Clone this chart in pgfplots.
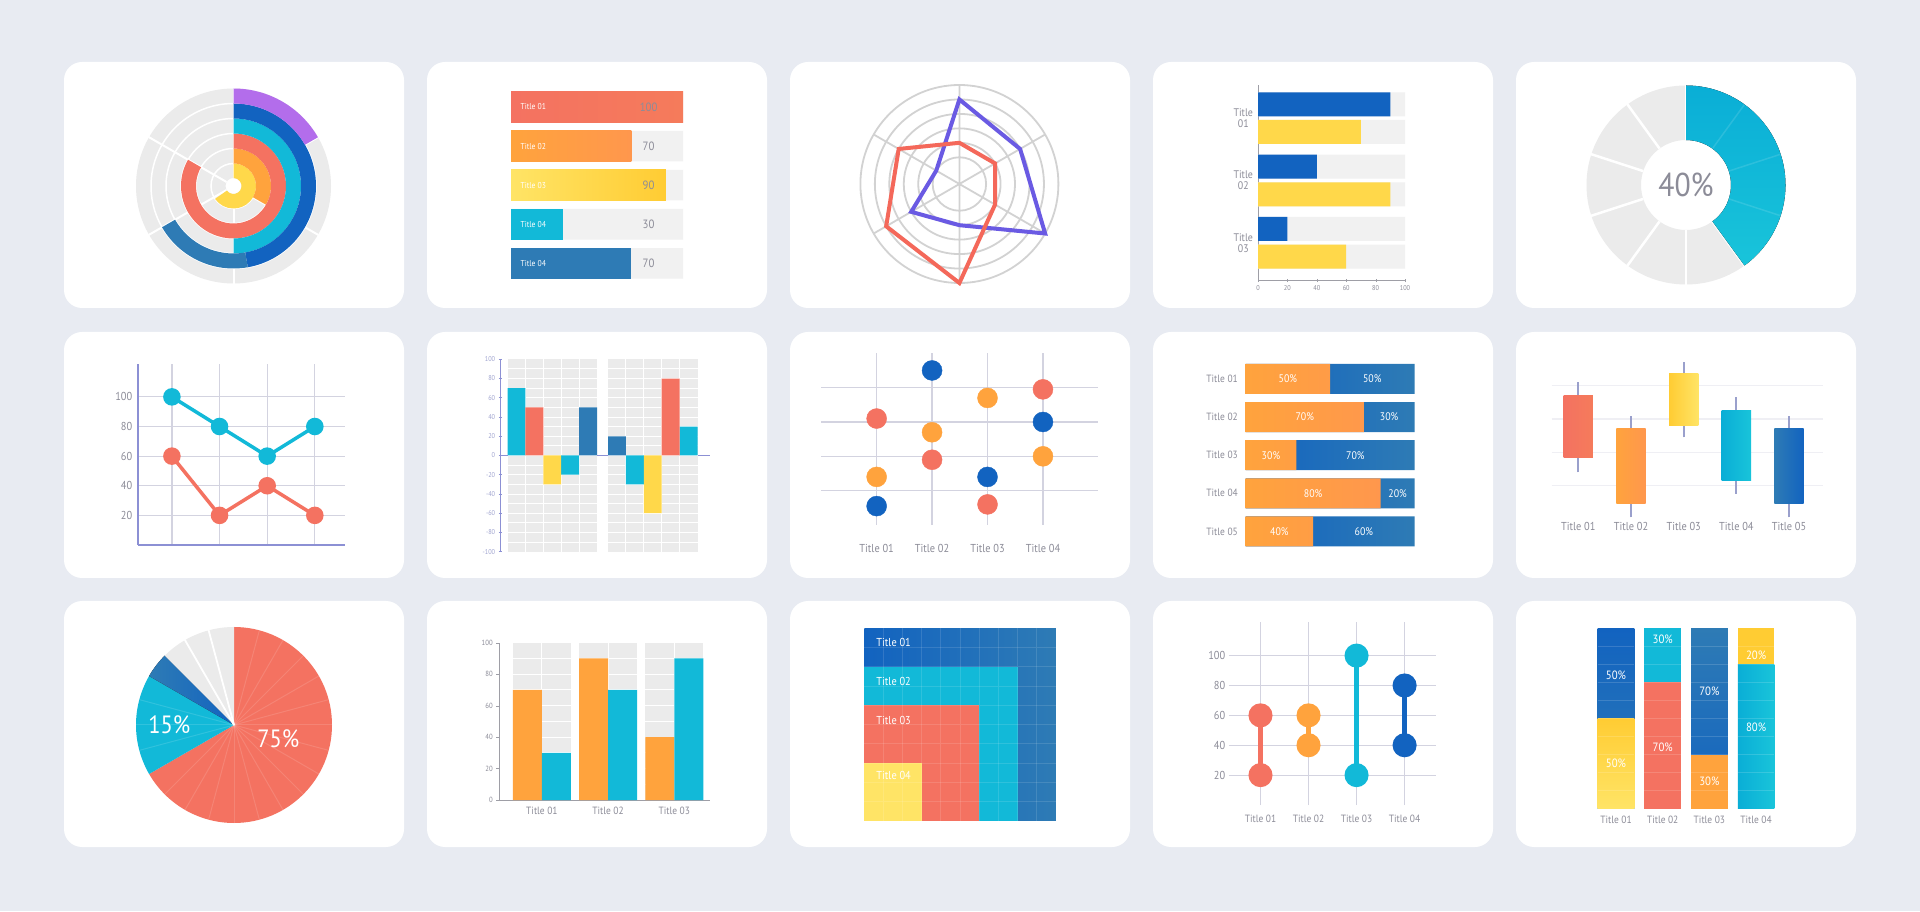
\documentclass[border=0pt]{standalone}
\usepackage{fontspec}
\setmainfont{PT Sans}[FakeStretch=0.9]
\usepackage{pgfplots}
\pgfplotsset{compat=1.18}
\usepgfplotslibrary{polar}

\definecolor{bgc}{HTML}{E8EBF2}
\definecolor{coral}{HTML}{F47261}
\definecolor{coralB}{HTML}{F57B5B}
\definecolor{orng}{HTML}{FFA33D}
\definecolor{orngB}{HTML}{FF974D}
\definecolor{yel}{HTML}{FFD84A}
\definecolor{yelL}{HTML}{FFE466}
\definecolor{yelD}{HTML}{FFCC33}
\definecolor{cyn}{HTML}{12B9D8}
\definecolor{cynD}{HTML}{0AAED6}
\definecolor{cynL}{HTML}{19C4DA}
\definecolor{dblue}{HTML}{1263C0}
\definecolor{steel}{HTML}{2E7BB5}
\definecolor{purp}{HTML}{B36DEB}
\definecolor{radarblue}{HTML}{6A5AE3}
\definecolor{radarred}{HTML}{F4685A}
\definecolor{ringg}{HTML}{EBEBEB}
\definecolor{track}{HTML}{F1F1F1}
\definecolor{lav}{HTML}{8C90D4}
\definecolor{lavtxt}{HTML}{A0A4D0}
\definecolor{gridc}{HTML}{D3D3E0}
\definecolor{txt}{HTML}{8C8C98}
\definecolor{axg}{HTML}{9E9EA6}
\definecolor{wick}{HTML}{9AA0CC}
\definecolor{faint}{HTML}{EFEFF4}
\definecolor{radring}{HTML}{D2D2D2}

\newcommand{\tf}[1]{\fontsize{#1}{#1}\selectfont}
% ring segment: inner r, outer r, from, to (degrees clockwise from top), style
\newcommand{\sector}[5]{%
  \fill[#5] (axis cs:{#2*cos(90-(#3))},{#2*sin(90-(#3))})
    arc[start angle={90-(#3)}, end angle={90-(#4)}, radius=#2pt]
    -- (axis cs:{#1*cos(90-(#4))},{#1*sin(90-(#4))})
    arc[start angle={90-(#4)}, end angle={90-(#3)}, radius=#1pt] -- cycle;}
\newcommand{\pie}[4]{%
  \fill[#4] (axis cs:0,0) -- (axis cs:{#1*cos(90-(#2))},{#1*sin(90-(#2))})
    arc[start angle={90-(#2)}, end angle={90-(#3)}, radius=#1pt] -- cycle;}
\newcommand{\spoke}[4]{%
  \draw[#4] (axis cs:{#1*cos(90-(#3))},{#1*sin(90-(#3))})
    -- (axis cs:{#2*cos(90-(#3))},{#2*sin(90-(#3))});}

\pgfplotsset{
  base/.style={scale only axis, clip=false, anchor=south west,
    /pgf/number format/assume math mode=true,
    tick style={draw=none}, ticklabel style={text=txt}},
  circ/.style={base, anchor=center, width=200pt, height=200pt,
    xmin=-100, xmax=100, ymin=-100, ymax=100, hide axis},
  b0/.style={bar shift=0pt, draw=none},
}

\begin{document}
\begin{tikzpicture}[x=1pt,y=1pt]
\fill[bgc] (0,0) rectangle (1920,911);
\foreach \cx in {64,427,790,1153,1516}{
  \foreach \cy in {849,579,310}{
    \fill[white, rounded corners=18pt] (\cx,\cy) rectangle ++(340,-246);
  }}

% ---------- row 1 ----------
% radial rings
\begin{axis}[circ, at={(233.5pt,725pt)}]
  \sector{8}{97.5}{0}{360}{ringg}
  \draw[white, line width=1.5pt] (axis cs:0,0) circle[radius=22.5pt];
  \draw[white, line width=1.5pt] (axis cs:0,0) circle[radius=37.5pt];
  \draw[white, line width=1.5pt] (axis cs:0,0) circle[radius=52.5pt];
  \draw[white, line width=1.5pt] (axis cs:0,0) circle[radius=67.5pt];
  \draw[white, line width=1.5pt] (axis cs:0,0) circle[radius=82.5pt];
  \pgfplotsinvokeforeach{0,60,120,180,240,300}{\spoke{8}{98}{#1}{white, line width=2pt}}
  \sector{8}{22.5}{0}{235}{yel}
  \sector{22.5}{37.5}{0}{120}{orng}
  \sector{37.5}{52.5}{0}{300}{coral}
  \sector{52.5}{67.5}{0}{180}{cyn}
  \sector{67.5}{82.5}{0}{170}{dblue}
  \sector{67.5}{82.5}{170}{240}{steel}
  \sector{82.5}{97.5}{0}{60}{purp}
\end{axis}

% horizontal progress bars
\begin{axis}[base, at={(511pt,628.05pt)}, width=172pt, height=195.5pt,
  xmin=0, xmax=100, ymin=0.5, ymax=5.5, y dir=reverse, hide axis,
  xbar, bar width=30.6pt]
  \addplot[b0, fill=track] coordinates {(100,1)(100,2)(100,3)(100,4)(100,5)};
  \addplot[b0, left color=coral, right color=coralB] coordinates {(100,1)};
  \addplot[b0, left color=orng, right color=orngB] coordinates {(70,2)};
  \addplot[b0, left color=yelL, right color=yelD] coordinates {(90,3)};
  \addplot[b0, fill=cyn] coordinates {(30,4)};
  \addplot[b0, fill=steel] coordinates {(70,5)};
  \node[anchor=west, white, font=\tf{8.5}] at (axis cs:3.5,1) {Title 01};
  \node[anchor=west, white, font=\tf{8.5}] at (axis cs:3.5,2) {Title 02};
  \node[anchor=west, white, font=\tf{8.5}] at (axis cs:3.5,3) {Title 03};
  \node[anchor=west, white, font=\tf{8.5}] at (axis cs:3.5,4) {Title 04};
  \node[anchor=west, white, font=\tf{8.5}] at (axis cs:3.5,5) {Title 04};
  \node[txt, font=\tf{12}] at (axis cs:80,1) {100};
  \node[txt, font=\tf{12}] at (axis cs:80,2) {70};
  \node[txt, font=\tf{12}] at (axis cs:80,3) {90};
  \node[txt, font=\tf{12}] at (axis cs:80,4) {30};
  \node[txt, font=\tf{12}] at (axis cs:80,5) {70};
\end{axis}

% radar
\begin{polaraxis}[scale only axis, clip=false, at={(959.4pt,727pt)}, anchor=center,
  width=198pt, ymin=0, ymax=100,
  xtick={30,90,150,210,270,330}, ytick={27,41.6,56.2,70.8,85.4,100},
  xticklabels={}, yticklabels={}, tick style={draw=none},
  grid=major, major grid style={draw=radring, line width=1.8pt},
  axis line style={draw=none}]
  \addplot[draw=radarblue, line width=4pt] coordinates
    {(90,85.4)(30,70.8)(330,100)(270,41.6)(210,56.2)(150,27)} -- cycle;
  \addplot[draw=radarred, line width=4pt] coordinates
    {(90,41.6)(30,41.6)(330,41.6)(270,100)(210,85.4)(150,70.8)} -- cycle;
\end{polaraxis}

% grouped horizontal bars
\begin{axis}[base, at={(1258pt,630.3pt)}, width=147pt, height=195.7pt,
  xmin=0, xmax=100, ymin=0.391, ymax=3.532,
  xbar, bar width=24pt,
  axis x line=bottom, axis y line=left,
  axis line style={-, draw=axg, line width=0.8pt},
  xtick={0,20,...,100}, ytick={1,2,3},
  yticklabels={{Title\\03},{Title\\02},{Title\\01}},
  yticklabel style={align=center, font=\tf{11}},
  xticklabel style={font=\tf{7}},
  xtick style={draw=axg}, major tick length=3pt]
  \addplot[fill=track, draw=none, bar shift=13.85pt] coordinates {(100,1)(100,2)(100,3)};
  \addplot[fill=track, draw=none, bar shift=-13.85pt] coordinates {(100,1)(100,2)(100,3)};
  \addplot[fill=dblue, draw=none, bar shift=13.85pt] coordinates {(20,1)(40,2)(90,3)};
  \addplot[fill=yel, draw=none, bar shift=-13.85pt] coordinates {(60,1)(90,2)(70,3)};
\end{axis}

% 40% donut
\begin{axis}[circ, at={(1686pt,726pt)}]
  \sector{45}{99.5}{0}{360}{ringg}
  \pgfplotsinvokeforeach{0,36,72,108,144,180,216,252,288,324}{\spoke{45}{100}{#1}{white, line width=2.5pt}}
  \sector{45}{99.5}{0}{144}{top color=cynD, bottom color=cynL}
  \pgfplotsinvokeforeach{36,72,108}{\spoke{45}{99.5}{#1}{white, opacity=0.12, line width=1.5pt}}
  \node[txt, font=\tf{33}] at (axis cs:0,0) {40\%};
\end{axis}

% ---------- row 2 ----------
% line chart
\begin{axis}[base, at={(137.9pt,366pt)}, width=207.4pt, height=180.7pt,
  xmin=0.286, xmax=4.64, ymin=0, ymax=122,
  axis x line=bottom, axis y line=left,
  axis line style={-, draw=lav, line width=1.5pt},
  xtick={1,2,3,4}, xticklabels={}, ytick={20,40,...,100},
  grid=major, major grid style={draw=gridc, line width=1.2pt},
  yticklabel style={font=\tf{11.5}}]
  \addplot[cyn, line width=3.5pt, mark=*, mark size=7pt, mark options={draw=none, fill=cyn}]
    coordinates {(1,100)(2,80)(3,60)(4,80)};
  \addplot[coral, line width=3.5pt, mark=*, mark size=7pt, mark options={draw=none, fill=coral}]
    coordinates {(1,60)(2,20)(3,40)(4,20)};
\end{axis}

% positive / negative bars
\begin{axis}[base, at={(500.2pt,359.3pt)}, width=209.8pt, height=192.4pt,
  xmin=0.092, xmax=11.81, ymin=-100, ymax=100,
  axis x line=middle, axis y line=left,
  axis line style={-, draw=lav, line width=1.2pt},
  xtick=\empty, ytick={-100,-80,...,100},
  yticklabel style={font=\tf{7}, text=lavtxt},
  ytick style={draw=lav, line width=0.8pt}, major tick length=3pt,
  ybar, bar width=17.9pt]
  \fill[ringg] (axis cs:0.5,-100) rectangle (axis cs:5.5,100);
  \fill[ringg] (axis cs:6.114,-100) rectangle (axis cs:11.114,100);
  \pgfplotsinvokeforeach{-90,-80,...,90}{\draw[white, line width=0.9pt]
    (axis cs:0.5,#1) -- (axis cs:5.5,#1) (axis cs:6.114,#1) -- (axis cs:11.114,#1);}
  \pgfplotsinvokeforeach{1.5,2.5,3.5,4.5,7.114,8.114,9.114,10.114}{\draw[white, line width=0.9pt]
    (axis cs:#1,-100) -- (axis cs:#1,100);}
  \addplot[b0, fill=cyn] coordinates {(1,70)(4,-20)(7.614,-30)(10.614,30)};
  \addplot[b0, fill=coral] coordinates {(2,50)(9.614,80)};
  \addplot[b0, fill=yel] coordinates {(3,-30)(8.614,-60)};
  \addplot[b0, fill=steel] coordinates {(5,50)(6.614,20)};
\end{axis}

% dot plot
\begin{axis}[base, at={(821.2pt,386pt)}, width=277.2pt, height=171.7pt,
  xmin=0, xmax=5, ymin=0, ymax=100, axis line style={draw=none},
  xtick={1,2,3,4}, xticklabels={Title 01,Title 02,Title 03,Title 04},
  ytick={20,40,60,80}, yticklabels={},
  grid=major, major grid style={draw=gridc, line width=1.2pt},
  xticklabel style={font=\tf{11.5}, yshift=-16pt}]
  \addplot[coral, only marks, mark=*, mark size=10pt, mark options={draw=none, fill=coral}]
    coordinates {(1,62)(2,38)(3,12)(4,79)};
  \addplot[orng, only marks, mark=*, mark size=10pt, mark options={draw=none, fill=orng}]
    coordinates {(1,28)(2,54)(3,74)(4,40)};
  \addplot[dblue, only marks, mark=*, mark size=10pt, mark options={draw=none, fill=dblue}]
    coordinates {(1,11)(2,90)(3,28)(4,60)};
\end{axis}

% 100% horizontal bars
\begin{axis}[base, at={(1245.6pt,360.55pt)}, width=168.9pt, height=190.5pt,
  xmin=0, xmax=100, ymin=0.5, ymax=5.5, axis line style={draw=none},
  xbar, bar width=30pt, xtick=\empty, ytick={1,2,3,4,5},
  yticklabels={Title 05,Title 04,Title 03,Title 02,Title 01},
  yticklabel style={font=\tf{10.5}}]
  \addplot[b0, left color=dblue, right color=steel] coordinates {(100,1)(100,2)(100,3)(100,4)(100,5)};
  \addplot[b0, left color=orng, right color=orngB] coordinates {(40,1)(80,2)(30,3)(70,4)(50,5)};
  \node[white, font=\tf{11}] at (axis cs:25,5) {50\%};
  \node[white, font=\tf{11}] at (axis cs:75,5) {50\%};
  \node[white, font=\tf{11}] at (axis cs:35,4) {70\%};
  \node[white, font=\tf{11}] at (axis cs:85,4) {30\%};
  \node[white, font=\tf{11}] at (axis cs:15,3) {30\%};
  \node[white, font=\tf{11}] at (axis cs:65,3) {70\%};
  \node[white, font=\tf{11}] at (axis cs:40,2) {80\%};
  \node[white, font=\tf{11}] at (axis cs:90,2) {20\%};
  \node[white, font=\tf{11}] at (axis cs:20,1) {40\%};
  \node[white, font=\tf{11}] at (axis cs:70,1) {60\%};
\end{axis}

% candlesticks
\begin{axis}[base, at={(1551.7pt,392pt)}, width=271.6pt, height=166.7pt,
  xmin=0.495, xmax=5.65, ymin=0, ymax=100, axis line style={draw=none},
  xtick={1,2,3,4,5}, xticklabels={Title 01,Title 02,Title 03,Title 04,Title 05},
  ytick={20,40,60,80}, yticklabels={},
  ymajorgrids, major grid style={draw=faint, line width=1.5pt},
  xticklabel style={font=\tf{11.5}}]
  \addplot[wick, line width=2pt] coordinates {(1,28)(1,82)};
  \addplot[wick, line width=2pt] coordinates {(2,1)(2,62)};
  \addplot[wick, line width=2pt] coordinates {(3,49)(3,94)};
  \addplot[wick, line width=2pt] coordinates {(4,15)(4,73)};
  \addplot[wick, line width=2pt] coordinates {(5,1)(5,62)};
  \addplot[draw=none, left color=coral, right color=coralB]
    coordinates {(0.722,37)(1.278,37)(1.278,74)(0.722,74)};
  \addplot[draw=none, left color=orng, right color=orngB]
    coordinates {(1.722,9)(2.278,9)(2.278,54)(1.722,54)};
  \addplot[draw=none, left color=yelD, right color=yelL]
    coordinates {(2.722,56)(3.278,56)(3.278,87)(2.722,87)};
  \addplot[draw=none, left color=cynD, right color=cynL]
    coordinates {(3.722,23)(4.278,23)(4.278,65)(3.722,65)};
  \addplot[draw=none, left color=steel, right color=dblue]
    coordinates {(4.722,9)(5.278,9)(5.278,54)(4.722,54)};
\end{axis}

% ---------- row 3 ----------
% pie
\begin{axis}[circ, at={(234pt,186pt)}]
  \pie{98}{0}{240}{coral}
  \pie{98}{240}{300}{cyn}
  \pie{98}{300}{315}{left color=steel, right color=dblue}
  \pie{98}{315}{360}{ringg}
  \pgfplotsinvokeforeach{330,345}{\spoke{0}{98.5}{#1}{white, line width=1.8pt}}
  \pgfplotsinvokeforeach{15,30,45,60,75,90,105,120,135,150,165,180,195,210,225,255,270,285}{\spoke{0}{98}{#1}{white, opacity=0.13, line width=1pt}}
  \node[white, font=\tf{25}] at (axis cs:44.3,-13.3) {75\%};
  \node[white, font=\tf{25}] at (axis cs:-64.7,0) {15\%};
\end{axis}

% grouped vertical bars
\begin{axis}[base, at={(499.3pt,111pt)}, width=210.7pt, height=157.3pt,
  xmin=0.356, xmax=3.54, ymin=0, ymax=100,
  axis x line=bottom, axis y line=left,
  axis line style={-, draw=axg, line width=0.9pt},
  xtick={1,2,3}, xticklabels={Title 01,Title 02,Title 03},
  ytick={0,20,...,100}, ytick style={draw=axg}, major tick length=3pt, tick align=outside,
  yticklabel style={font=\tf{7.5}}, xticklabel style={font=\tf{10.5}},
  ybar, bar width=29pt]
  \pgfplotsinvokeforeach{1,2,3}{\fill[ringg] (axis cs:{#1-0.438},0) rectangle (axis cs:{#1+0.438},100);
    \draw[white, line width=1pt] (axis cs:#1,0) -- (axis cs:#1,100);}
  \pgfplotsinvokeforeach{10,20,...,90}{\draw[white, line width=1pt]
    (axis cs:0.562,#1) -- (axis cs:1.438,#1) (axis cs:1.562,#1) -- (axis cs:2.438,#1)
    (axis cs:2.562,#1) -- (axis cs:3.438,#1);}
  \addplot[draw=none, fill=orng, bar shift=-14.5pt] coordinates {(1,70)(2,90)(3,40)};
  \addplot[draw=none, fill=cyn, bar shift=14.5pt] coordinates {(1,30)(2,70)(3,90)};
\end{axis}

% nested squares
\begin{axis}[base, at={(864.3pt,90pt)}, width=191.5pt, height=192.7pt,
  xmin=0, xmax=100, ymin=0, ymax=100, hide axis]
  \addplot[draw=none, left color=dblue, right color=steel] coordinates {(0,0)(100,0)(100,100)(0,100)};
  \addplot[draw=none, fill=cyn] coordinates {(0,0)(80,0)(80,80)(0,80)};
  \addplot[draw=none, fill=coral] coordinates {(0,0)(60,0)(60,60)(0,60)};
  \addplot[draw=none, fill=yelL] coordinates {(0,0)(30,0)(30,30)(0,30)};
  \pgfplotsinvokeforeach{10,20,...,90}{\draw[white, opacity=0.12, line width=1pt]
    (axis cs:#1,0) -- (axis cs:#1,100) (axis cs:0,#1) -- (axis cs:100,#1);}
  \node[anchor=west, white, font=\tf{11.5}] at (axis cs:4.5,92.7) {Title 01};
  \node[anchor=west, white, font=\tf{11.5}] at (axis cs:4.5,72.3) {Title 02};
  \node[anchor=west, white, font=\tf{11.5}] at (axis cs:4.5,52) {Title 03};
  \node[anchor=west, white, font=\tf{11.5}] at (axis cs:4.5,23.4) {Title 04};
\end{axis}

% dumbbells
\begin{axis}[base, at={(1228.8pt,106pt)}, width=207pt, height=182.7pt,
  xmin=0.34, xmax=4.65, ymin=0, ymax=122.3, axis line style={draw=none},
  xtick={1,2,3,4}, xticklabels={Title 01,Title 02,Title 03,Title 04},
  ytick={20,40,...,100},
  grid=major, major grid style={draw=gridc, line width=1.2pt},
  yticklabel style={font=\tf{11.5}}, xticklabel style={font=\tf{10.5}, yshift=-6pt}]
  \addplot[coral, line width=5.4pt, mark=*, mark size=9.3pt, mark options={draw=none, fill=coral}]
    coordinates {(1,20)(1,60)};
  \addplot[orng, line width=5.4pt, mark=*, mark size=9.3pt, mark options={draw=none, fill=orng}]
    coordinates {(2,40)(2,60)};
  \addplot[cyn, line width=5.4pt, mark=*, mark size=9.3pt, mark options={draw=none, fill=cyn}]
    coordinates {(3,20)(3,100)};
  \addplot[dblue, line width=5.4pt, mark=*, mark size=9.3pt, mark options={draw=none, fill=dblue}]
    coordinates {(4,40)(4,80)};
\end{axis}

% 100% vertical bars
\begin{axis}[base, at={(1592.65pt,102.3pt)}, width=186.8pt, height=180.4pt,
  xmin=0.5, xmax=4.5, ymin=0, ymax=100, axis line style={draw=none},
  ybar, bar width=36.7pt, xtick={1,2,3,4},
  xticklabels={Title 01,Title 02,Title 03,Title 04}, ytick=\empty,
  xticklabel style={font=\tf{10.5}}]
  \addplot[b0, top color=dblue, bottom color=steel] coordinates {(1,100)};
  \addplot[b0, fill=cyn] coordinates {(2,100)};
  \addplot[b0, top color=steel, bottom color=dblue] coordinates {(3,100)};
  \addplot[b0, fill=yelD] coordinates {(4,100)};
  \addplot[b0, top color=yelD, bottom color=yelL] coordinates {(1,50)};
  \addplot[b0, fill=coral] coordinates {(2,70)};
  \addplot[b0, fill=orng] coordinates {(3,30)};
  \addplot[b0, left color=cynD, right color=cynL] coordinates {(4,80)};
  \pgfplotsinvokeforeach{10,20,...,90}{\draw[white, opacity=0.15, line width=0.8pt]
    (axis cs:0.607,#1) -- (axis cs:1.393,#1) (axis cs:1.607,#1) -- (axis cs:2.393,#1)
    (axis cs:2.607,#1) -- (axis cs:3.393,#1) (axis cs:3.607,#1) -- (axis cs:4.393,#1);}
  \node[white, font=\tf{12}] at (axis cs:1,74) {50\%};
  \node[white, font=\tf{12}] at (axis cs:1,25) {50\%};
  \node[white, font=\tf{12}] at (axis cs:2,94) {30\%};
  \node[white, font=\tf{12}] at (axis cs:2,34) {70\%};
  \node[white, font=\tf{12}] at (axis cs:3,65) {70\%};
  \node[white, font=\tf{12}] at (axis cs:3,15) {30\%};
  \node[white, font=\tf{12}] at (axis cs:4,85) {20\%};
  \node[white, font=\tf{12}] at (axis cs:4,45) {80\%};
\end{axis}
\end{tikzpicture}
\end{document}
